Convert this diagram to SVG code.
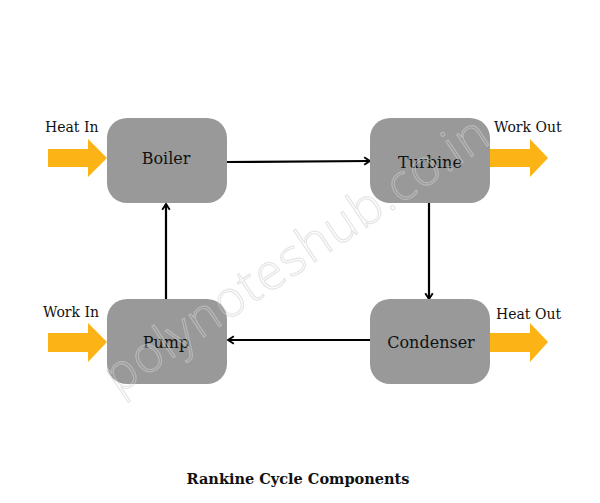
<svg xmlns="http://www.w3.org/2000/svg" width="600" height="503" viewBox="0 0 600 503">
<style>
.node{fill:#999999}
.lbl{font-family:"DejaVu Serif","Liberation Serif",serif;font-size:16px;fill:#111111;text-anchor:middle}
.io{font-family:"DejaVu Serif","Liberation Serif",serif;font-size:14px;fill:#111111}
.flow{fill:#FCB316}
.conn{stroke:#000;stroke-width:2.2;fill:none}
.title{font-family:"DejaVu Serif","Liberation Serif",serif;font-size:14.5px;font-weight:bold;fill:#111111;text-anchor:middle}
.wm{font-family:"Open Sans","DejaVu Sans",sans-serif;font-size:50px;font-weight:300;letter-spacing:1.5px;fill:none;stroke:#cfcfcf;stroke-opacity:0.55;stroke-width:1.2}
</style>
<defs>
<marker id="ah2" viewBox="0 0 12 12" refX="10" refY="6" markerWidth="10" markerHeight="10" orient="auto" markerUnits="userSpaceOnUse">
<path d="M3,1.5 L10,6 L3,10.5" fill="none" stroke="#000" stroke-width="2.2"/>
</marker>
</defs>
<rect width="600" height="503" fill="#ffffff"/>

<g id="connectors">
<line class="conn" x1="227" y1="162" x2="370" y2="161" marker-end="url(#ah2)"/>
<line class="conn" x1="429" y1="203" x2="429" y2="299" marker-end="url(#ah2)"/>
<line class="conn" x1="371" y1="340" x2="228" y2="340" marker-end="url(#ah2)"/>
<line class="conn" x1="166" y1="299" x2="166" y2="204" marker-end="url(#ah2)"/>
</g>

<g id="boiler">
<rect class="node" x="107" y="118" width="120" height="85" rx="20"/>
<text class="lbl" x="166" y="164">Boiler</text>
</g>
<g id="turbine">
<rect class="node" x="370" y="118" width="120" height="85" rx="20"/>
<text class="lbl" x="430" y="168">Turbine</text>
</g>
<g id="pump">
<rect class="node" x="107" y="299" width="120" height="85" rx="20"/>
<text class="lbl" x="166" y="348">Pump</text>
</g>
<g id="condenser">
<rect class="node" x="370" y="299" width="120" height="85" rx="20"/>
<text class="lbl" x="431" y="348">Condenser</text>
</g>

<g id="heat-in">
<polygon class="flow" points="48,149 88,149 88,139 107,158 88,177 88,167 48,167"/>
<text class="io" x="45" y="132">Heat In</text>
</g>
<g id="work-out">
<polygon class="flow" points="490,149 530,149 530,139 548,158 530,177 530,167 490,167"/>
<text class="io" x="494" y="132">Work Out</text>
</g>
<g id="work-in">
<polygon class="flow" points="48,333 88,333 88,323 107,342 88,362 88,352 48,352"/>
<text class="io" x="43" y="317">Work In</text>
</g>
<g id="heat-out">
<polygon class="flow" points="490,333 530,333 530,323 548,342 530,362 530,352 490,352"/>
<text class="io" x="496" y="319">Heat Out</text>
</g>

<text class="title" x="298" y="484">Rankine Cycle Components</text>
<text class="wm" x="0" y="0" transform="translate(118,395) rotate(-34)">polynoteshub.co.in</text>
</svg>
